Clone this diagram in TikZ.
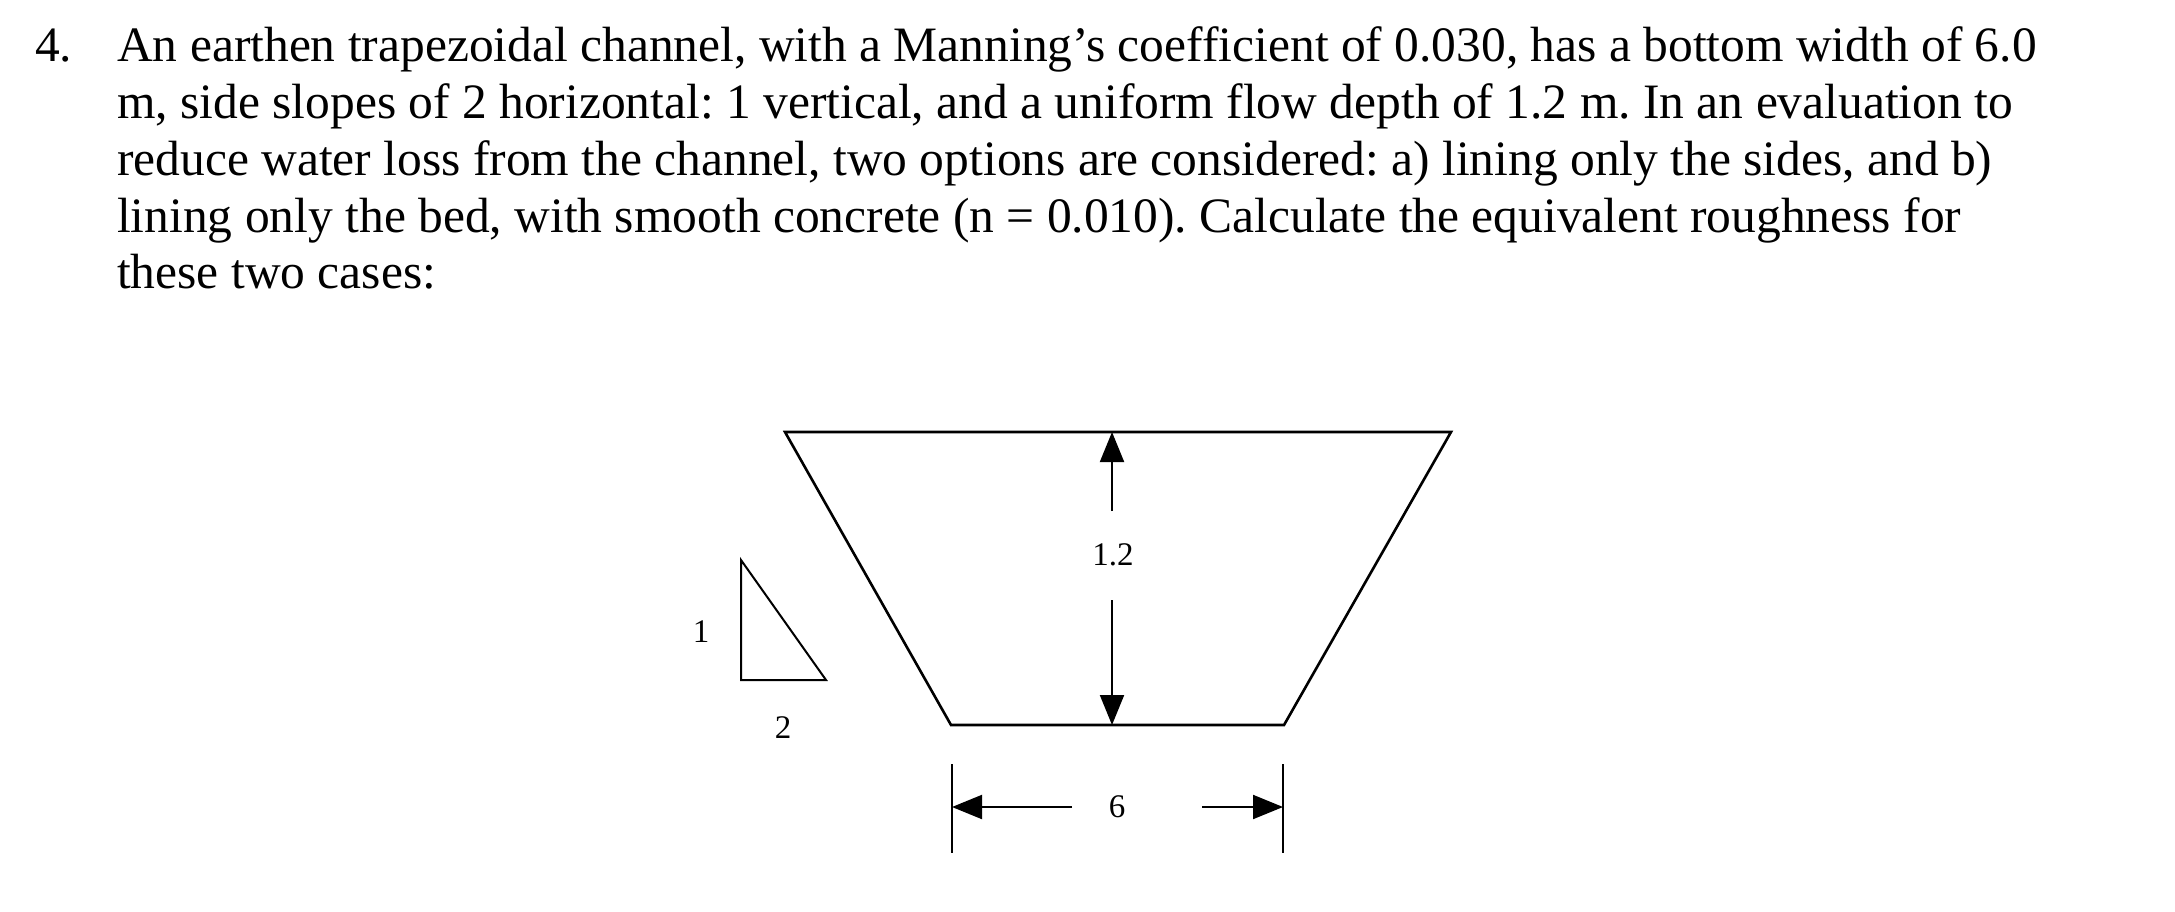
\documentclass[tikz,border=0pt]{standalone}
\usepackage{fontspec}
\setmainfont{Liberation Serif}
\usetikzlibrary{arrows.meta}
\begin{document}
\frenchspacing
\begin{tikzpicture}[x=1pt,y=-1pt,
  txt/.style={anchor=base west,inner sep=0pt,font=\fontsize{49.5}{57}\selectfont},
  lbl/.style={inner sep=0pt,font=\fontsize{33}{40}\selectfont},
  chan/.style={line width=2.6pt},
  thinline/.style={line width=2pt},
  dim/.style={line width=2pt,-{Triangle[length=30pt,width=24pt]}}]
\useasboundingbox (0,0) rectangle (2175,912);
\fill[white] (0,0) rectangle (2175,912);
\node[txt] (n4) at (35,62) {4.};
\node[txt] (l1) at (117,62) {An earthen trapezoidal channel, with a Manning’s coefficient of 0.030, has a bottom width of 6.0};
\node[txt] (l2) at (117,118.7) {m, side slopes of 2 horizontal: 1 vertical, and a uniform flow depth of 1.2 m. In an evaluation to};
\node[txt] (l3) at (117,175.3) {reduce water loss from the channel, two options are considered: a) lining only the sides, and b)};
\node[txt] (l4) at (117,232) {lining only the bed, with smooth concrete (n = 0.010). Calculate the equivalent roughness for};
\node[txt] (l5) at (117,288.7) {these two cases:};
% trapezoid
\coordinate (tl) at (785,432); \coordinate (tr) at (1451,432);
\coordinate (bl) at (951,725); \coordinate (br) at (1284,725);
\draw[chan,line join=miter] (tl) -- (tr) -- (br) -- (bl) -- cycle;
% depth
\node[lbl] (d) at (1113,555) {1.2};
\coordinate (dt) at (1112,432); \coordinate (db) at (1112,725);
\coordinate (du) at (1112,511); \coordinate (dd) at (1112,600);
\draw[dim] (du) -- (dt);
\draw[dim] (dd) -- (db);
% slope triangle
\coordinate (ta) at (741,560); \coordinate (tb) at (741,680); \coordinate (tc) at (826,680);
\draw[thinline] (ta) -- (tb) -- (tc) -- cycle;
\node[lbl] (one) at (701,632) {1};
\node[lbl] (two) at (783,728) {2};
% width
\coordinate (k1a) at (952,764); \coordinate (k1b) at (952,853);
\coordinate (k2a) at (1283,764); \coordinate (k2b) at (1283,853);
\draw[thinline] (k1a) -- (k1b);
\draw[thinline] (k2a) -- (k2b);
\node[lbl] (six) at (1117,807) {6};
\coordinate (wl) at (1072,807); \coordinate (wr) at (1202,807);
\coordinate (wl0) at (952,807); \coordinate (wr0) at (1283,807);
\draw[dim] (wl) -- (wl0);
\draw[dim] (wr) -- (wr0);
\end{tikzpicture}
\end{document}
